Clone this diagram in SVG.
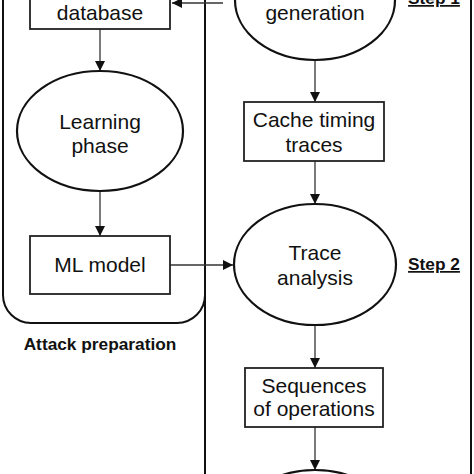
<svg xmlns="http://www.w3.org/2000/svg" width="474" height="474" viewBox="0 0 474 474">
<defs>
<marker id="ah" viewBox="0 0 10 10" refX="10" refY="5" markerWidth="10" markerHeight="10" markerUnits="userSpaceOnUse" orient="auto">
<path d="M0,0 L10,5 L0,10 z" fill="#111"/>
</marker>
</defs>
<style>
.t{font-family:"Liberation Sans",Arial,sans-serif;font-size:21px;fill:#111;text-anchor:middle}
.b{font-family:"Liberation Sans",Arial,sans-serif;font-size:17.3px;font-weight:bold;fill:#111;text-anchor:middle}
.u{text-decoration:underline}
.box{fill:#fff;stroke:#222;stroke-width:1.8}
.ell{fill:#fff;stroke:#111;stroke-width:2.2}
.pan{fill:none;stroke:#111;stroke-width:2}
.c{fill:none;stroke:#333;stroke-width:1.3;marker-end:url(#ah)}
</style>
<rect width="474" height="474" fill="#fff"/>
<g id="panels">
<rect class="pan" x="3" y="-100" width="202" height="423" rx="28"/>
<rect class="pan" x="205" y="-100" width="266" height="620" stroke="#333"/>
</g>
<g id="connectors">
<path class="c" d="M223 3 L172 3" stroke="#aaa"/>
<path class="c" d="M100 29 L100 71"/>
<path class="c" d="M100 191 L100 236"/>
<path class="c" d="M170 265 L233 265"/>
<path class="c" d="M315 60 L315 102"/>
<path class="c" d="M315 161 L315 204"/>
<path class="c" d="M315 325 L315 368"/>
<path class="c" d="M315 427 L315 470"/>
</g>
<g id="database">
<rect class="box" x="30" y="-30" width="140" height="59"/>
<text class="t" x="100" y="20">database</text>
</g>
<g id="learning">
<ellipse class="ell" cx="100" cy="131" rx="83" ry="60"/>
<text class="t" x="100" y="129">Learning</text>
<text class="t" x="100" y="153">phase</text>
</g>
<g id="mlmodel">
<rect class="box" x="30" y="236" width="140" height="58"/>
<text class="t" x="100" y="272">ML model</text>
</g>
<g id="attackprep">
<text class="b" x="100" y="350">Attack preparation</text>
</g>
<g id="generation">
<ellipse class="ell" cx="315" cy="0" rx="80" ry="60"/>
<text class="t" x="315" y="20">generation</text>
</g>
<g id="step1">
<text class="b u" x="434" y="4">Step 1</text>
</g>
<g id="cache">
<rect class="box" x="244" y="102" width="140" height="59"/>
<text class="t" x="314" y="127">Cache timing</text>
<text class="t" x="314" y="152">traces</text>
</g>
<g id="trace">
<ellipse class="ell" cx="315" cy="264.5" rx="81" ry="60.5"/>
<text class="t" x="315" y="260">Trace</text>
<text class="t" x="315" y="285">analysis</text>
</g>
<g id="step2">
<text class="b u" x="434" y="270">Step 2</text>
</g>
<g id="sequences">
<rect class="box" x="245" y="368" width="138" height="59"/>
<text class="t" x="314" y="393">Sequences</text>
<text class="t" x="314" y="416">of operations</text>
</g>
<g id="next">
<ellipse class="ell" cx="315" cy="530" rx="80" ry="60"/>
</g>
</svg>
